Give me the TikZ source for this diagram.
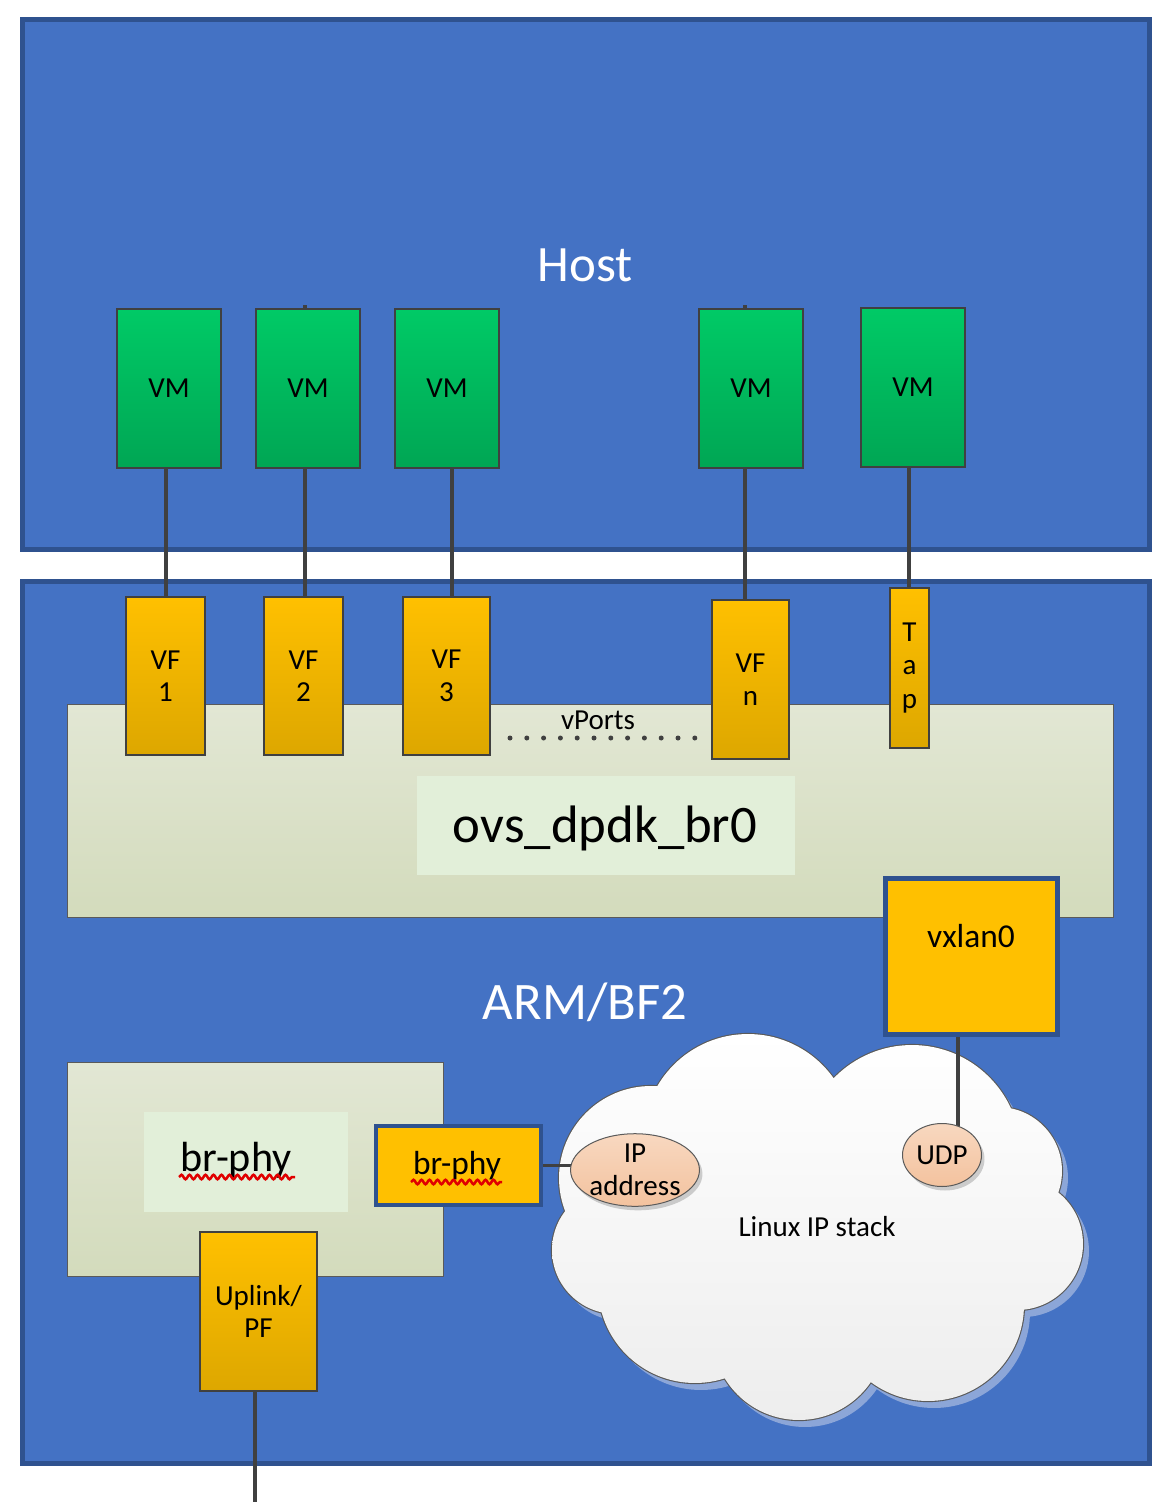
\documentclass[tikz,border=0pt]{standalone}
\usepackage{fontspec}
\setmainfont{Carlito}
\usetikzlibrary{calc,shadows,shapes.geometric,decorations.pathmorphing}
\pgfdeclarelayer{back}
\pgfdeclarelayer{mid}
\pgfsetlayers{back,mid,main}
\definecolor{bfill}{HTML}{4472C4}
\definecolor{bline}{HTML}{2F528F}
\definecolor{gtop}{HTML}{00CA66}
\definecolor{gbot}{HTML}{00A654}
\definecolor{otop}{HTML}{FFC000}
\definecolor{obot}{HTML}{DDA700}
\definecolor{ctop}{HTML}{E2E7D4}
\definecolor{cbot}{HTML}{D3DBBC}
\definecolor{lbl}{HTML}{E2EFD9}
\definecolor{edge}{HTML}{404040}
\definecolor{ptop}{HTML}{F8D8C0}
\definecolor{pbot}{HTML}{F3C29E}
\definecolor{cshadow}{HTML}{8CA6D8}
\definecolor{cedge}{HTML}{5A5A5A}
\definecolor{squig}{HTML}{E00000}
\newcommand{\cloudcircles}[2]{%
 (748+#1,1139+#2) circle[radius=2.10cm]
 (912+#1,1154+#2) circle[radius=2.18cm]
 (998+#1,1171+#2) circle[radius=1.28cm]
 (1017+#1,1244+#2) circle[radius=1.32cm]
 (928+#1,1305+#2) circle[radius=1.92cm]
 (799+#1,1333+#2) circle[radius=1.74cm]
 (695+#1,1286+#2) circle[radius=1.94cm]
 (616+#1,1250+#2) circle[radius=1.28cm]
 (651+#1,1178+#2) circle[radius=1.84cm]
 (815+#1,1235+#2) ellipse[x radius=4.2cm, y radius=2.6cm]}
\begin{document}
\begin{tikzpicture}[x=0.02cm, y=-0.02cm,
  every node/.style={inner sep=0pt, outer sep=0pt, align=center},
  small/.style={font=\fontsize{16.5}{18.5}\selectfont},
  panel/.style={draw=bline, line width=0.1cm, fill=bfill},
  cont/.style={draw=cedge, line width=0.02cm, top color=ctop, bottom color=cbot},
  lblbox/.style={fill=lbl},
  vmbox/.style={small, draw=edge, line width=0.026cm, top color=gtop, bottom color=gbot,
     minimum width=2.08cm, minimum height=3.18cm},
  vfbox/.style={small, draw=edge, line width=0.022cm, top color=otop, bottom color=obot,
     minimum height=3.16cm},
  portbox/.style={draw=bline, fill=otop},
  pill/.style={small, ellipse, draw=cedge, line width=0.02cm, top color=ptop, bottom color=pbot,
     drop shadow={shadow xshift=0.06cm, shadow yshift=-0.08cm, fill=black, opacity=0.18}},
  conn/.style={draw=edge, line width=0.075cm},
  wavy/.style={draw=squig, line width=0.05cm, decorate,
     decoration={snake, amplitude=0.045cm, segment length=0.16cm}}]
\useasboundingbox (0,0) rectangle (1174,1502);

\begin{pgfonlayer}{back}
  \node[panel, minimum width=22.54cm, minimum height=10.61cm] (host) at (586,284.75) {};
  \node[panel, minimum width=22.54cm, minimum height=17.65cm] (arm) at (586,1022.75) {};
  \node[cont, minimum width=20.94cm, minimum height=4.28cm] (ovs) at (590.5,811) {};
  \node[cont, minimum width=7.54cm, minimum height=4.3cm] (brc) at (255.5,1169.5) {};
  % cloud
  \fill[cshadow] \cloudcircles{6}{7};
  \draw[cedge, line width=0.045cm] \cloudcircles{0}{0};
  \shade[top color=white, bottom color=black!7] \cloudcircles{0}{0};
\end{pgfonlayer}

% titles
\node[text=white, font=\fontsize{29}{34}\selectfont] (hostt) at (585,265) {Host};
\node[text=white, font=\fontsize{30}{35}\selectfont] (armt) at (585,1002) {ARM/BF2};

% VMs
\node[vmbox] (vm1) at (169,388.5) {VM};
\node[vmbox] (vm2) at (308,388.5) {VM};
\node[vmbox] (vm3) at (447,388.5) {VM};
\node[vmbox] (vmn) at (751,388.5) {VM};
\node[vmbox] (vm5) at (913,387.5) {VM};

% ovs bridge
\node[lblbox, minimum width=7.56cm, minimum height=1.98cm] (ovsl) at (606,825.5) {};
\node[font=\fontsize{30}{35}\selectfont] (ovst) at (605,828) {ovs\_dpdk\_br0};
\node[small] (vports) at (598,720) {vPorts};

% VFs
\node[vfbox, minimum width=1.58cm] (vf1) at (165.5,676) {VF\\1};
\node[vfbox, minimum width=1.58cm] (vf2) at (303.5,676) {VF\\2};
\node[vfbox, minimum width=1.74cm] (vf3) at (446.5,676) {VF\\3};
\node[vfbox, minimum width=1.54cm, minimum height=3.18cm] (vfn) at (750.5,679.5) {VF\\n};
\node[vfbox, minimum width=0.78cm, minimum height=3.2cm, font=\fontsize{16.5}{19}\selectfont] (tap) at (909.5,668) {T\\a\\p};

% vxlan0
\node[portbox, line width=0.1cm, minimum width=3.44cm, minimum height=3.12cm] (vx) at (971.5,956.5) {};
\node[font=\fontsize{19}{22}\selectfont] (vxt) at (971,936) {vxlan0};

% br-phy
\node[lblbox, minimum width=4.08cm, minimum height=2cm] (brl) at (246,1162) {};
\node[font=\fontsize{24}{28}\selectfont] (brt) at (236,1160) {br-phy};
\node[portbox, line width=0.08cm, minimum width=3.3cm, minimum height=1.58cm] (brport) at (458.5,1165.5) {};
\node[font=\fontsize{19}{22}\selectfont] (brpt) at (457,1166) {br-phy};
\node[vfbox, minimum width=2.34cm, minimum height=3.18cm] (uplink) at (258.5,1311.5) {Uplink/\\PF};

% Linux IP stack
\node[small] (stack) at (817,1227) {Linux IP stack};
\node[pill, minimum width=2.52cm, minimum height=1.22cm] (ip) at (635,1170) {IP\\address};
\node[pill, minimum width=1.58cm, minimum height=1.26cm] (udp) at (942,1155) {UDP};

% connector columns
\coordinate (l1) at (166,0);
\coordinate (l2) at (305,0);
\coordinate (l3) at (452,0);
\coordinate (ln) at (745,0);
\coordinate (l5) at (909,0);
\coordinate (l6) at (958,0);
\coordinate (l7) at (255,0);
\coordinate (wireend) at (255,1502);

\begin{pgfonlayer}{mid}
  \draw[conn] (vm1.south -| l1) -- (vf1.north -| l1);
  \draw[conn] (vm2.south -| l2) -- (vf2.north -| l2);
  \draw[conn] (vm3.south -| l3) -- (vf3.north -| l3);
  \draw[conn] (vmn.south -| ln) -- (vfn.north -| ln);
  \draw[conn] (vm5.south -| l5) -- (tap.north -| l5);
  \draw[conn] (vm2.north -| l2) -- ++(0,-4);
  \draw[conn] (vmn.north -| ln) -- ++(0,-4);
  \draw[conn] (vx.south -| l6) -- (udp.center -| l6);
  \draw[conn] (brport.east) -- (brport.east -| ip.center);
  \draw[conn] (uplink.south -| l7) -- (wireend);
\end{pgfonlayer}

% dotted vPorts row
\foreach \i in {0,...,11} \fill[edge] (510+\i*16.8,738) circle[radius=0.05cm];

% spell-check squiggles
\draw[wavy] (179,1177) -- (295,1177);
\draw[wavy] (411,1182) -- (502,1182);
\end{tikzpicture}
\end{document}
